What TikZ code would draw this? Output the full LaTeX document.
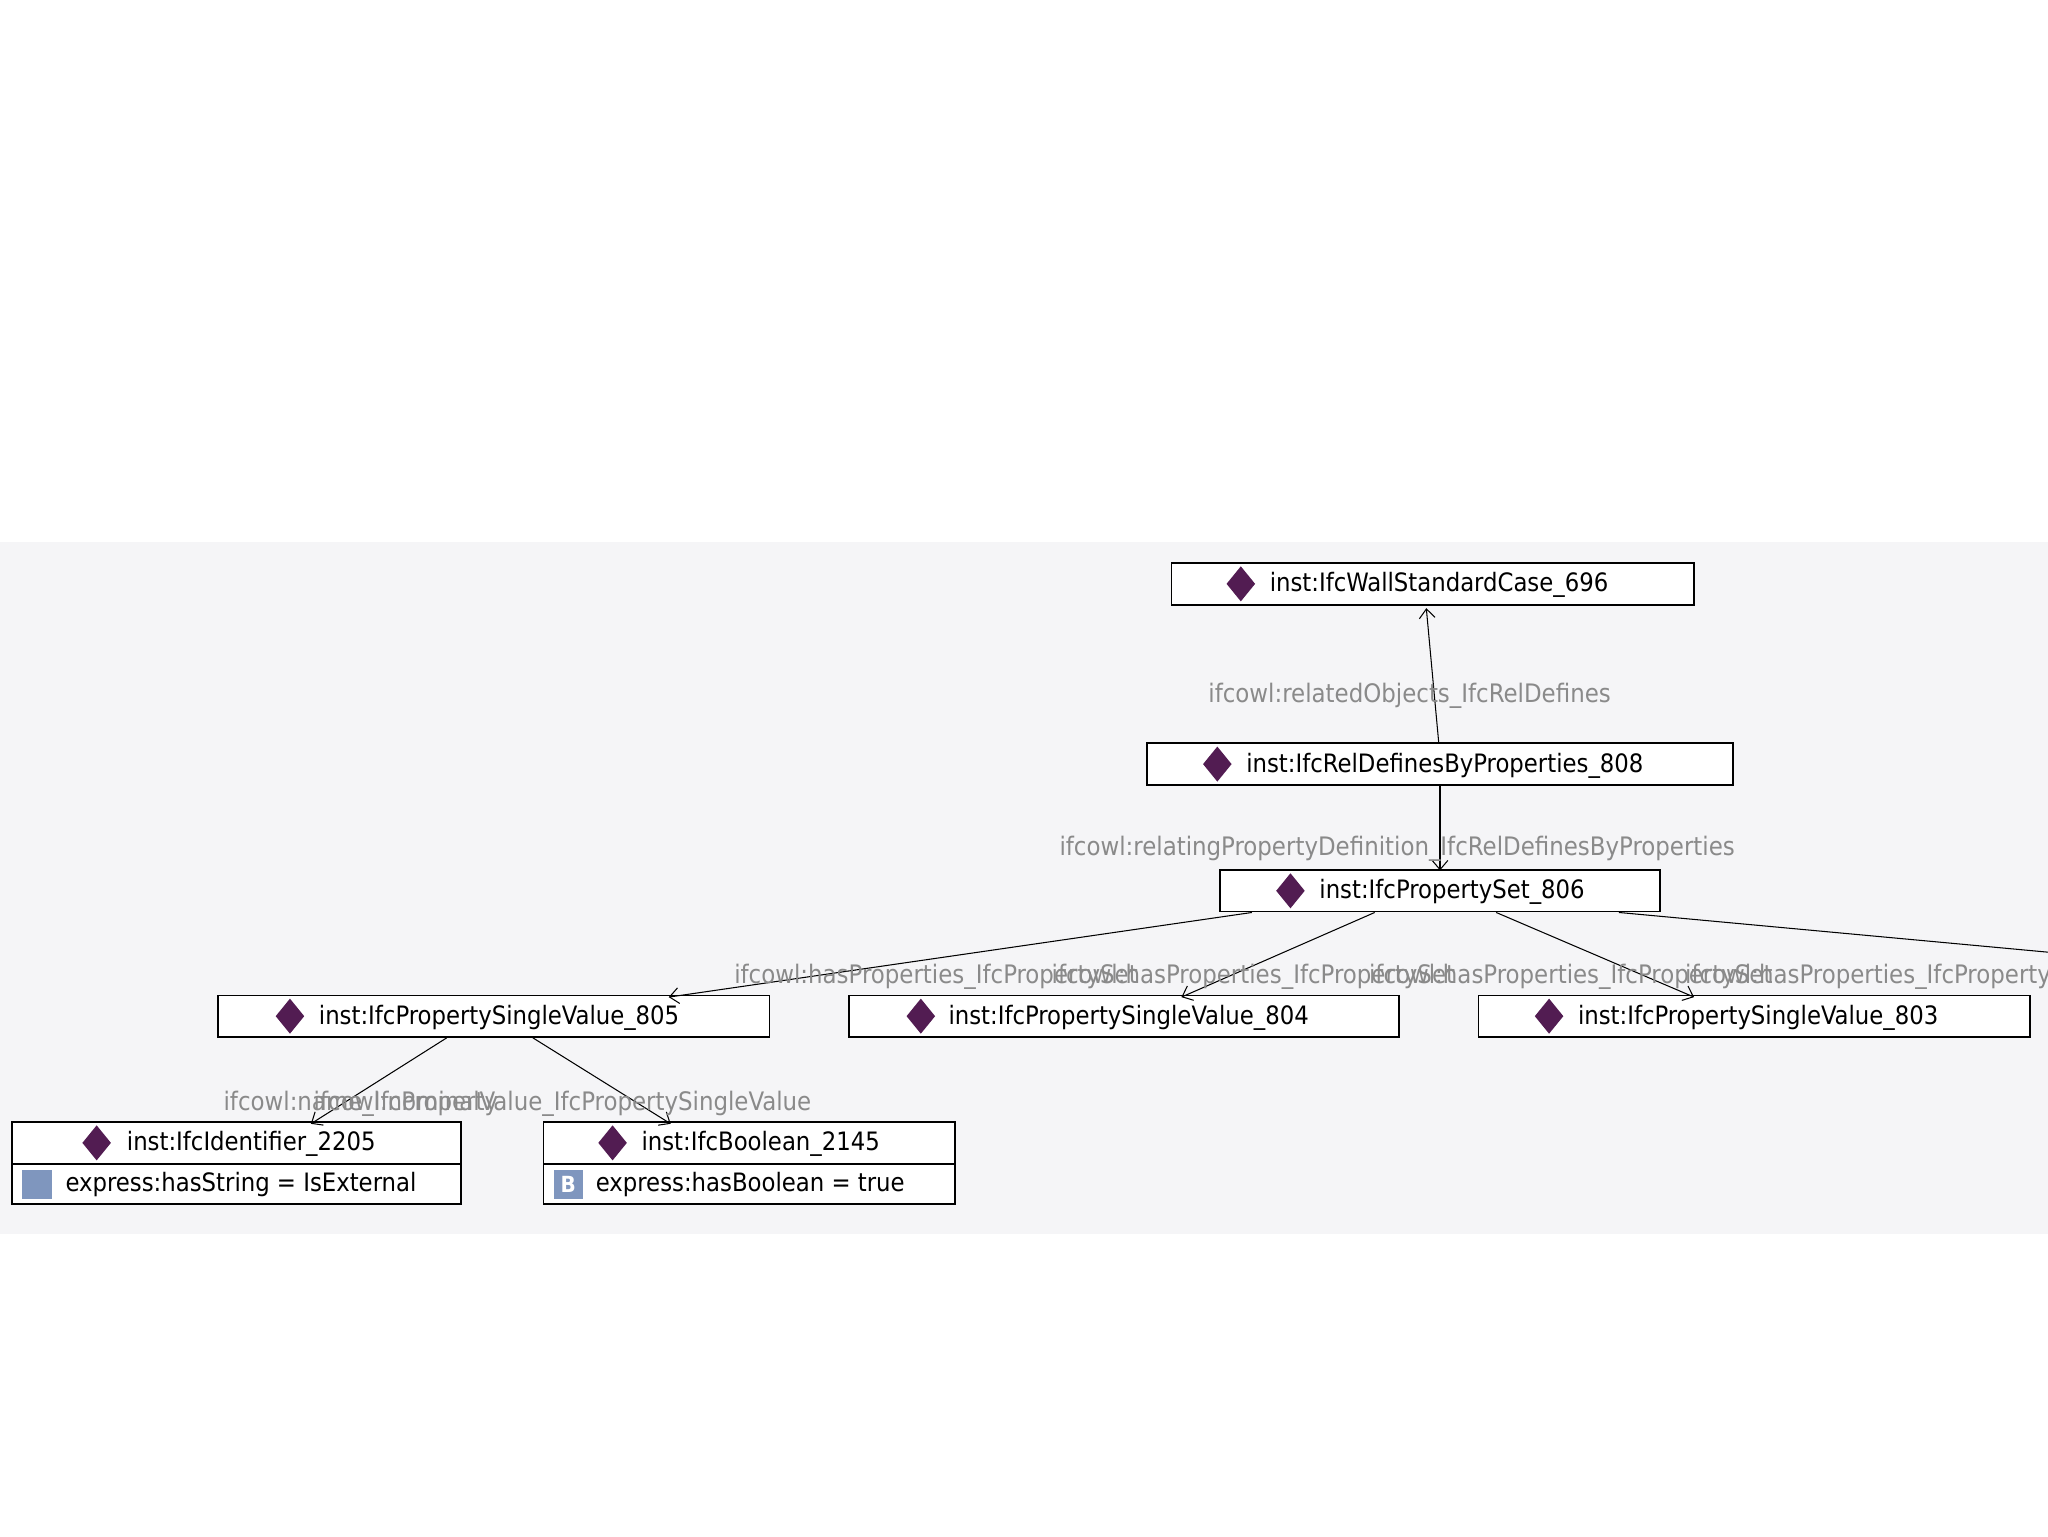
\documentclass[tikz,border=0pt]{standalone}
\usepackage{fontspec}
\setmainfont{DejaVu Sans Condensed}
\usetikzlibrary{arrows.meta,shapes.geometric}
\definecolor{panel}{HTML}{F5F5F7}
\definecolor{dia}{HTML}{521C52}
\definecolor{lbl}{HTML}{8A8A8A}
\definecolor{icon}{HTML}{7F96BE}
\begin{document}
\begin{tikzpicture}[x=1pt,y=-1pt,
  box/.style={draw=black,line width=1.2pt,fill=white,inner sep=0pt,minimum height=32pt},
  dm/.style={diamond,fill=dia,inner sep=0pt,minimum width=22pt,minimum height=27pt},
  txt/.style={anchor=west,inner sep=0pt,font=\fontsize{19.4}{19.4}\selectfont},
  lab/.style={anchor=west,inner sep=0pt,text=lbl,font=\fontsize{19.5}{19.5}\selectfont},
  edge/.style={draw=black,line width=0.8pt,-{Straight Barb[length=7pt,width=12pt]}}]
\useasboundingbox (0,0) rectangle (1568,1176);
\fill[white] (0,0) rectangle (1568,1176);
\fill[panel] (0,415) rectangle (1568,945);
% nodes
\node[box,minimum width=400pt] (W) at (1097,447) {};
\node[dm] at (950,447) {}; \node[txt] at (972,448) {inst:IfcWallStandardCase\_696};
\node[box,minimum width=449pt] (R) at (1102.5,585) {};
\node[dm] at (932,585) {}; \node[txt] at (954,586) {inst:IfcRelDefinesByProperties\_808};
\node[box,minimum width=337pt] (PS) at (1102.5,682) {};
\node[dm] at (988,682) {}; \node[txt] at (1010,683) {inst:IfcPropertySet\_806};
\node[box,minimum width=422pt] (P5) at (378,778) {};
\node[dm] at (222,778) {}; \node[txt] at (244,779) {inst:IfcPropertySingleValue\_805};
\node[box,minimum width=421pt] (P4) at (860.5,778) {};
\node[dm] at (705,778) {}; \node[txt] at (726,779) {inst:IfcPropertySingleValue\_804};
\node[box,minimum width=422pt] (P3) at (1343,778) {};
\node[dm] at (1186,778) {}; \node[txt] at (1208,779) {inst:IfcPropertySingleValue\_803};
% literal boxes
\node[box,minimum width=344pt,minimum height=63pt] (I) at (181,890.5) {};
\draw[line width=1.2pt] (9,891) -- (353,891);
\node[dm] at (74,875) {}; \node[txt] at (97,876) {inst:IfcIdentifier\_2205};
\fill[icon] (17,896) rectangle (40,918);
\node[txt] at (50,907) {express:hasString = IsExternal};
\node[box,minimum width=315pt,minimum height=63pt] (B) at (573.5,890.5) {};
\draw[line width=1.2pt] (416,891) -- (731,891);
\node[dm] at (469,875) {}; \node[txt] at (491,876) {inst:IfcBoolean\_2145};
\fill[icon] (424,896) rectangle (446,918);
\node[inner sep=0pt,text=white,font=\fontsize{17}{17}\selectfont\bfseries] at (435,907) {B};
\node[txt] at (456,907) {express:hasBoolean = true};
% edges
\coordinate (off) at (1568,729);
\draw[edge] (R.north) ++(-1,0) -- ([xshift=-5pt,yshift=-2pt]W.south);
\node[lab] at (925,533) {ifcowl:relatedObjects\_IfcRelDefines};
\draw[edge] (R.south) -- ([yshift=-1pt]PS.north);
\node[lab] at (811,650) {ifcowl:relatingPropertyDefinition\_IfcRelDefinesByProperties};
\draw[edge] ([xshift=-144pt]PS.south) -- ([xshift=134pt,yshift=-2pt]P5.north);
\draw[edge] ([xshift=-50pt]PS.south) -- ([xshift=44pt,yshift=-2pt]P4.north);
\draw[edge] ([xshift=43pt]PS.south) -- ([xshift=-46pt,yshift=-2pt]P3.north);
\draw[line width=0.8pt] ([xshift=137pt]PS.south) -- (off);
\node[lab] at (562,748) {ifcowl:hasProperties\_IfcPropertySet};
\node[lab] at (805,748) {ifcowl:hasProperties\_IfcPropertySet};
\node[lab] at (1048,748) {ifcowl:hasProperties\_IfcPropertySet};
\node[lab] at (1290,748) {ifcowl:hasProperties\_IfcPropertySet};
\draw[edge] ([xshift=-36pt]P5.south) -- ([xshift=57pt,yshift=-2pt]I.north);
\draw[edge] ([xshift=30pt]P5.south) -- ([xshift=-60pt,yshift=-2pt]B.north);
\node[lab] at (171,845) {ifcowl:name\_IfcProperty};
\node[lab] at (240,845) {ifcowl:nominalValue\_IfcPropertySingleValue};
\end{tikzpicture}
\end{document}
